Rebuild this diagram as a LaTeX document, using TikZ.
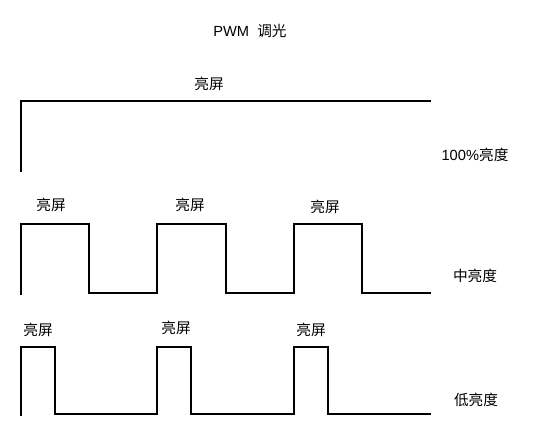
\documentclass[tikz,border=0pt]{standalone}
\usepackage{fontspec}
\setmainfont{Liberation Sans}
\newfontfamily\cjk{Noto Sans CJK SC}
\begin{document}
\begin{tikzpicture}[x=0.75pt,y=-0.75pt,
  wave/.style={draw=black,line width=1.5pt,line join=miter},
  lbl/.style={font=\cjk\fontsize{11}{12}\selectfont,inner sep=0pt},
  side/.style={font=\fontsize{11}{12}\selectfont,inner sep=0pt}]
\useasboundingbox (0,0) rectangle (536,431);
\node[side] (title) at (250,31) {PWM\ \ {\cjk 调光}};
% 100% brightness
\draw[wave] (21,172) -- (21,101) -- (431,101);
\node[lbl] (l0) at (209,84) {亮屏};
\node[side] (s1) at (475,155) {100\%{\cjk 亮度}};
% medium brightness
\draw[wave] (21,295) -- (21,224) -- (89,224) -- (89,293) -- (157,293) -- (157,224)
  -- (226,224) -- (226,293) -- (294,293) -- (294,224) -- (362,224) -- (362,293) -- (431,293);
\node[lbl] (m1) at (51,205) {亮屏};
\node[lbl] (m2) at (190,205) {亮屏};
\node[lbl] (m3) at (325,207) {亮屏};
\node[lbl] (s2) at (475,276) {中亮度};
% low brightness
\draw[wave] (21,416) -- (21,347) -- (55,347) -- (55,414) -- (157,414) -- (157,347)
  -- (191,347) -- (191,414) -- (294,414) -- (294,347) -- (328,347) -- (328,414) -- (431,414);
\node[lbl] (b1) at (38,330) {亮屏};
\node[lbl] (b2) at (176,328) {亮屏};
\node[lbl] (b3) at (311,330) {亮屏};
\node[lbl] (s3) at (476,400) {低亮度};
\end{tikzpicture}
\end{document}
